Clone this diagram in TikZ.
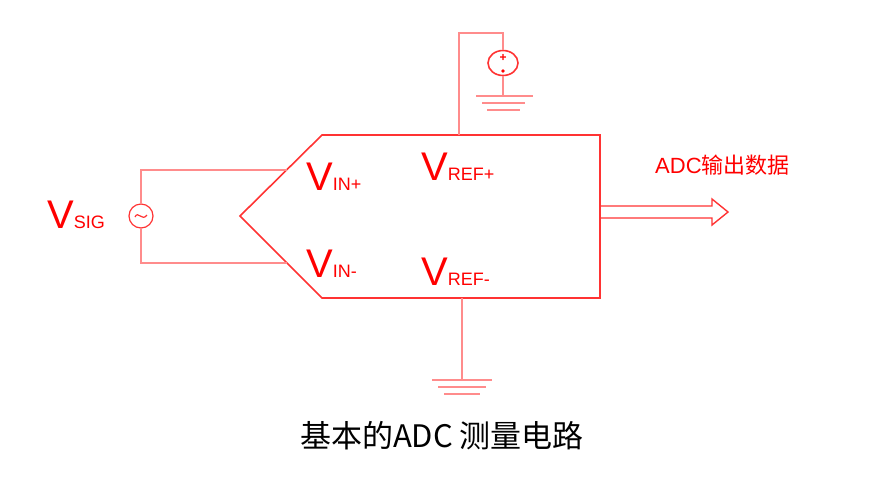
\documentclass[tikz,border=0pt]{standalone}
\usepackage{fontspec}
\usetikzlibrary{shapes.geometric}
\setmainfont{Liberation Sans}
\newfontfamily\cjk{Noto Sans CJK SC}
\begin{document}
\begin{tikzpicture}[x=1pt,y=-1pt,
  wire/.style={draw=red!45,line width=1.2pt},
  body/.style={draw=red!80,line width=1.6pt},
  lab/.style={text=red,inner sep=0pt,anchor=base west},
  gnd/.style={draw=red!45,line width=1.6pt}]
\useasboundingbox (0,0) rectangle (877,483);
% ADC body
\draw[body] (322,135) -- (600,135) -- (600,298) -- (322,298) -- (240,216) -- cycle;
\coordinate (tl) at (287,170); \coordinate (bl) at (287,263);
\coordinate (st) at (141,170); \coordinate (sb) at (141,263);
\node[draw=red!80,line width=1.2pt,circle,minimum size=24pt,inner sep=0pt] (sig) at (141,216) {};
\draw[red!80,line width=1.2pt] (135,217) .. controls (138,210) and (142,222) .. (147,215);
\draw[wire] (tl) -- (st) -- (sig.north);
\draw[wire] (bl) -- (sb) -- (sig.south);
% reference source
\coordinate (rt) at (459,135);
\node[draw=red!80,line width=1.6pt,ellipse,minimum width=30pt,minimum height=25pt,inner sep=0pt] (ref) at (503,63) {};
\node[text=red,font=\bfseries\large,inner sep=0pt] (pl) at (503,58) {+};
\fill[red] (503,71) circle (1.8pt);
\coordinate (g1) at (503,96);
\draw[wire] (rt) -- (459,33) -- (503,33) -- (ref.north);
\draw[wire] (ref.south) -- (g1);
\draw[gnd] (476,96) -- (533,96) (482,103) -- (525,103) (487,110) -- (520,110);
% bottom ground
\coordinate (bt) at (462,298); \coordinate (g2) at (462,380);
\draw[wire] (bt) -- (g2);
\draw[gnd] (432,380) -- (492,380) (438,387) -- (486,387) (444,394) -- (480,394);
% output arrow
\draw[draw=red!80,line width=1.4pt] (600,206) -- (712,206) -- (712,199) -- (728,212) -- (712,225) -- (712,218) -- (600,218);
% labels
\node[lab] (vsig) at (47,228) {\fontsize{40}{40}\selectfont V\fontsize{18}{18}\selectfont SIG};
\node[lab] (vinp) at (306,190) {\fontsize{40}{40}\selectfont V\fontsize{18}{18}\selectfont IN+};
\node[lab] (vinm) at (306,277) {\fontsize{40}{40}\selectfont V\fontsize{18}{18}\selectfont IN-};
\node[lab] (vrefp) at (421,180) {\fontsize{40}{40}\selectfont V\fontsize{18}{18}\selectfont REF+};
\node[lab] (vrefm) at (421,285) {\fontsize{40}{40}\selectfont V\fontsize{18}{18}\selectfont REF-};
\node[lab] (out) at (655,173) {\fontsize{22}{22}\selectfont ADC\cjk 输出数据};
\node[inner sep=0pt] (cap) at (442,436) {\fontsize{31}{31}\selectfont\cjk 基本的ADC 测量电路};
\end{tikzpicture}
\end{document}
